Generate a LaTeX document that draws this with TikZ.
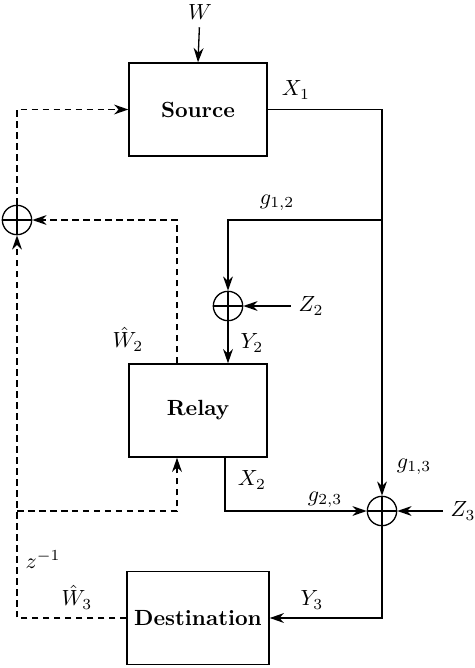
\documentclass[tikz,border=0pt]{standalone}
\usepackage{tikz}
\usepackage{amsmath}
\usepackage{amssymb}
\usetikzlibrary{arrows.meta}

\tikzset{
	block/.style={draw, semithick, minimum width=2.21cm, minimum height=1.49cm, font=\bfseries},
	adder/.style={draw, semithick, circle, minimum size=0.47cm, inner sep=0pt,
		path picture={\draw[semithick] (path picture bounding box.north) -- (path picture bounding box.south)
			(path picture bounding box.west) -- (path picture bounding box.east);}},
	link/.style={semithick, -{Stealth[length=6.5pt, width=4.5pt]}},
	fb/.style={semithick, dash pattern=on 3pt off 2pt},
}

\begin{document}
\begin{tikzpicture}[x=0.016cm, y=-0.016cm]
\useasboundingbox (0,0) rectangle (474,668);
\node[block] (source) at (198,109.5) {Source};
\node[block] (relay) at (198,410.5) {Relay};
\node[block] (dest) at (198,618) {Destination};
\node[adder] (addA) at (17,220) {};
\node[adder] (addB) at (228,306) {};
\node[adder] (addC) at (382,511) {};
\coordinate (split) at (382,220);
\coordinate (fbR) at (177,0);
\coordinate (txR) at (225,0);
\coordinate (fbLow) at (0,511);
\node (w) at (200,12) {$W$};
\node (z2) at (311,306) {$Z_2$};
\node (z3) at (463,511) {$Z_3$};
	\draw[link] (w) -- (source.north);
	\draw[link] (source.east) -| (addC.north);
	\draw[link] (split) -| (addB.north);
	\draw[link] (z2) -- (addB.east);
	\draw[link] (z3) -- (addC.east);
	\draw[link] (addB.south) -- (addB.south |- relay.north);
	\draw[link] (relay.south -| txR) |- (addC.west);
	\draw[link] (addC.south) |- (dest.east);
	\draw[fb, -{Stealth[length=6.5pt, width=4.5pt]}] (relay.north -| fbR) |- (addA.east);
	\draw[fb, -{Stealth[length=6.5pt, width=4.5pt]}] (addA.north) |- (source.west);
	\draw[fb, -{Stealth[length=6.5pt, width=4.5pt]}] (dest.west) -| (addA.south);
	\draw[fb, -{Stealth[length=6.5pt, width=4.5pt]}] (addA |- fbLow) -| (relay.south -| fbR);
\node (lX1) at (296,90) {$X_1$};
\node (lg12) at (277,203) {$g_{1,2}$};
\node (lY2) at (252,343) {$Y_2$};
\node (lW2) at (128,339) {$\hat{W}_2$};
\node (lX2) at (252,480) {$X_2$};
\node (lg23) at (325,500) {$g_{2,3}$};
\node (lg13) at (414,467) {$g_{1,3}$};
\node (lY3) at (312,600) {$Y_3$};
\node (lW3) at (77,597) {$\hat{W}_3$};
\node (lz) at (43,560) {$z^{-1}$};
\end{tikzpicture}
\end{document}
